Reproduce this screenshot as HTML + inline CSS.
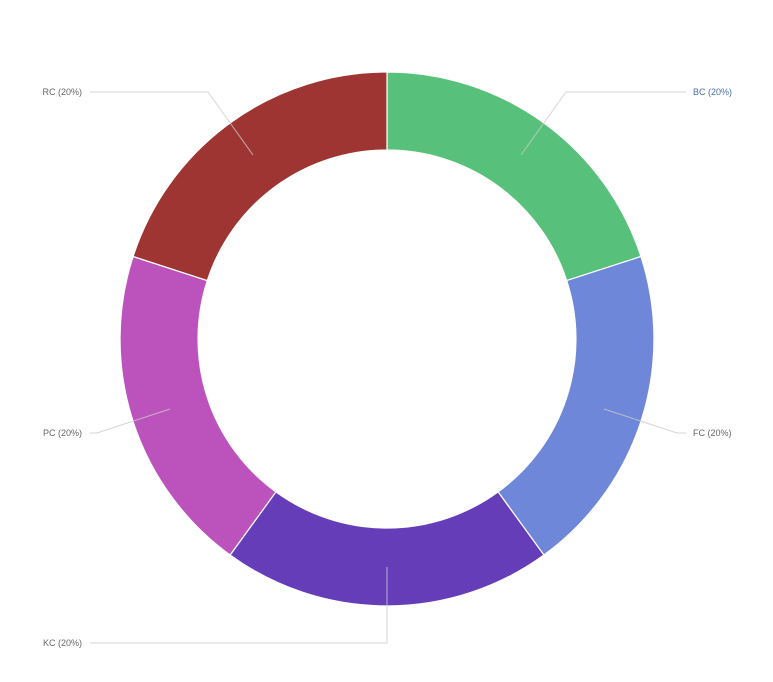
<!DOCTYPE html>
<html><head><style>body{margin:0;background:#fff}svg{display:block}text{font-family:"Liberation Sans",sans-serif;font-size:9px;fill:#666}</style></head>
<body>
<svg width="773" height="682" xmlns="http://www.w3.org/2000/svg">
<g stroke="#fff" stroke-width="1.2">
<path d="M387,72 A267,267 0 0 1 640.9,256.5 L566.7,280.6 A189,189 0 0 0 387,150 Z" fill="#57c17b"/>
<path d="M640.9,256.5 A267,267 0 0 1 543.9,555 L498.1,491.9 A189,189 0 0 0 566.7,280.6 Z" fill="#6f87d8"/>
<path d="M543.9,555 A267,267 0 0 1 230.1,555 L275.9,491.9 A189,189 0 0 0 498.1,491.9 Z" fill="#663db8"/>
<path d="M230.1,555 A267,267 0 0 1 133.1,256.5 L207.3,280.6 A189,189 0 0 0 275.9,491.9 Z" fill="#bc52bc"/>
<path d="M133.1,256.5 A267,267 0 0 1 387,72 L387,150 A189,189 0 0 0 207.3,280.6 Z" fill="#9e3533"/>
</g>
<g fill="none" stroke="#ccc" stroke-width="1" opacity="0.8">
<polyline points="521,155 566,92 686,92"/>
<polyline points="604,409 677,433 686,433"/>
<polyline points="387,567 387,643 90,643"/>
<polyline points="170,409 97,433 90,433"/>
<polyline points="253,155 208,92 90,92"/>
</g>
<text x="693" y="95" style="fill:#4a6fa5">BC (20%)</text>
<text x="693" y="436">FC (20%)</text>
<text x="82" y="646" text-anchor="end">KC (20%)</text>
<text x="82" y="436" text-anchor="end">PC (20%)</text>
<text x="82" y="95" text-anchor="end">RC (20%)</text>
</svg>
</body></html>
